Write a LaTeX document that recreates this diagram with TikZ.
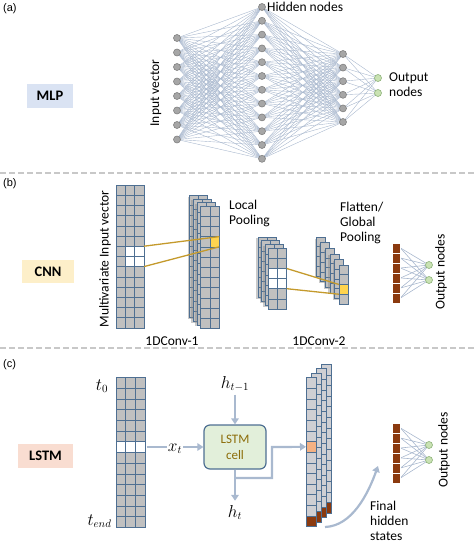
\documentclass[tikz,border=0pt]{standalone}
\usepackage{fontspec}
\setmainfont{Carlito}
\newfontfamily\arialf{Liberation Sans}
\usetikzlibrary{arrows.meta,backgrounds,calc}
\definecolor{edgec}{HTML}{A9B8CE}
\definecolor{nodegray}{HTML}{A6A6A6}
\definecolor{nodeborder}{HTML}{808080}
\definecolor{outgreen}{HTML}{C9E2B3}
\definecolor{outborder}{HTML}{8DB27A}
\definecolor{cellgray}{HTML}{C0C0C0}
\definecolor{cellgrayb}{HTML}{CFCFD3}
\definecolor{cellborder}{HTML}{4E6F92}
\definecolor{mlpbox}{HTML}{DAE3F3}
\definecolor{cnnbox}{HTML}{FDEFC9}
\definecolor{lstmbox}{HTML}{F9DDD1}
\definecolor{yellowc}{HTML}{FFD44F}
\definecolor{goldline}{HTML}{C49A2C}
\definecolor{brownc}{HTML}{8B3A0F}
\definecolor{orangec}{HTML}{F4B183}
\definecolor{arrowc}{HTML}{A9B9CF}
\definecolor{cellgreen}{HTML}{E2EFDA}
\definecolor{celltext}{HTML}{8C6D0A}
\definecolor{dashc}{HTML}{C8C8C8}
\definecolor{shadowc}{HTML}{8A8A8A}
\newcommand{\CellCol}[7]{%
  \foreach \cc in {1,...,#3}{\foreach \rr in {1,...,#4}{%
    \draw[cellst,fill=#7] ({#1+(\cc-1)*(#5)},{#2+(\rr-1)*(#6)}) rectangle ++(#5,#6);}}}
\tikzset{
 nn/.style={circle, draw=nodeborder, fill=nodegray, line width=0.6pt, minimum size=7pt, inner sep=0},
 onode/.style={circle, draw=outborder, fill=outgreen, line width=0.6pt, minimum size=7pt, inner sep=0},
 mlpedge/.style={draw=edgec, line width=0.4pt},
 cellst/.style={draw=cellborder, line width=0.6pt},
 hl/.style={rectangle, draw=cellborder, line width=0.6pt, inner sep=0, outer sep=0, anchor=north west},
 gold/.style={draw=goldline, line width=1.3pt},
 flow/.style={draw=arrowc, line width=2.2pt},
 flowarrow/.style={flow, -{Triangle[length=6pt,width=7.5pt]}},
 labelbox/.style={rectangle, inner sep=0, font=\fontsize{14.5}{16}\selectfont\bfseries},
 sepline/.style={draw=dashc, line width=1.2pt, dash pattern=on 6pt off 3pt},
 txt/.style={inner sep=0, font=\fontsize{13.5}{15}\selectfont},
 mathtxt/.style={inner sep=1pt, font=\fontsize{16}{18}\selectfont},
 panel/.style={inner sep=0, font=\arialf\fontsize{11}{13}\selectfont, anchor=west},
 browncell/.style={rectangle, draw=white, fill=brownc, line width=0.5pt, inner sep=0, outer sep=0, minimum width=8.5pt, minimum height=10pt, anchor=north west},
 backshadow/.style={fill=shadowc, opacity=0.45},
}
\begin{document}
\begin{tikzpicture}[x=1pt,y=-1pt]
\useasboundingbox (0,0) rectangle (474,543);
% separators
\coordinate (s1l) at (0,173); \coordinate (s1r) at (474,173);
\coordinate (s2l) at (0,348); \coordinate (s2r) at (474,348);
\draw[sepline] (s1l) -- (s1r);
\draw[sepline] (s2l) -- (s2r);
% panel labels
\node[panel] (pa) at (3,9) {(a)};
\node[panel] (pb) at (3,184) {(b)};
\node[panel] (pc) at (3,365) {(c)};
% label boxes
\node[labelbox, fill=mlpbox, minimum width=46pt, minimum height=24pt] (mlp) at (50,96) {MLP};
\node[labelbox, fill=cnnbox, minimum width=52pt, minimum height=23pt] (cnn) at (48,271.5) {CNN};
\node[labelbox, fill=lstmbox, minimum width=55pt, minimum height=24pt] (lstm) at (45.5,456) {LSTM};

% ================= MLP =================
\foreach \i in {0,...,7} \node[nn] (a1-\i) at (177,{38+14.5*\i}) {};
\foreach \i in {0,...,11} \node[nn] (a2-\i) at (262,{7+13.8*\i}) {};
\foreach \i in {0,...,5} \node[nn] (a3-\i) at (343,{54+13.6*\i}) {};
\node[onode] (a4-0) at (378,78) {};
\node[onode] (a4-1) at (378,93) {};
\begin{scope}[on background layer]
\foreach \i in {0,...,7}{\foreach \j in {0,...,11}{\draw[mlpedge] (a1-\i.center) -- (a2-\j.center);}}
\foreach \i in {0,...,11}{\foreach \j in {0,...,5}{\draw[mlpedge] (a2-\i.center) -- (a3-\j.center);}}
\foreach \i in {0,...,5}{\foreach \j in {0,1}{\draw[mlpedge] (a3-\i.center) -- (a4-\j.center);}}
\end{scope}
\node[txt, anchor=west] (hid) at (267,6.5) {Hidden nodes};
\node[txt, anchor=west, align=left] (outa) at (389,85) {Output\\nodes};
\node[txt, rotate=90] (inv) at (156,93) {Input vector};

% ================= CNN =================
\node[txt, rotate=90] (miv) at (105,259) {Multivariate Input vector};
\CellCol{116}{185}{3}{14}{9.33}{10.2}{cellgray}
\node[hl,fill=white,minimum width=9.33pt,minimum height=10.2pt] (wa) at (125.33,246.2) {};
\node[hl,fill=white,minimum width=9.33pt,minimum height=10.2pt] (wb) at (134.66,246.2) {};
\node[hl,fill=white,minimum width=9.33pt,minimum height=10.2pt] (wc) at (125.33,256.4) {};
\node[hl,fill=white,minimum width=9.33pt,minimum height=10.2pt] (wd) at (134.66,256.4) {};
% conv-1 stack
\foreach \k in {3,2,1}{%
  \fill[backshadow] ({200.7-3.9*\k-1.5},{206-3.6*\k+1.5}) rectangle ++(18.6,122.4);
  \CellCol{200.7-3.9*\k}{206-3.6*\k}{2}{12}{9.3}{10.2}{cellgray}}
\CellCol{200.7}{206}{2}{12}{9.3}{10.2}{cellgray}
\node[hl,fill=yellowc,minimum width=9.3pt,minimum height=10.2pt] (ya) at (210,236.6) {};
\draw[gold] (wb.north east) -- (ya.north east);
\draw[gold] (wd.south east) -- (ya.south east);
\node[txt, anchor=west, align=left] (lp) at (229,213.5) {Local\\Pooling};
\node[txt] (c1) at (172,341) {1DConv-1};
% conv-2 stack 1
\foreach \k in {3,2,1}{%
  \fill[backshadow] ({268.3-3.5*\k-1.5},{248.3-3.8*\k+1.5}) rectangle ++(18.4,60.6);
  \CellCol{268.3-3.5*\k}{248.3-3.8*\k}{2}{6}{9.2}{10.1}{cellgray}}
\CellCol{268.3}{248.3}{2}{6}{9.2}{10.1}{cellgray}
\node[hl,fill=white,minimum width=9.2pt,minimum height=10.1pt] (wa2) at (268.3,268.5) {};
\node[hl,fill=white,minimum width=9.2pt,minimum height=10.1pt] (wb2) at (277.5,268.5) {};
\node[hl,fill=white,minimum width=9.2pt,minimum height=10.1pt] (wc2) at (268.3,278.6) {};
\node[hl,fill=white,minimum width=9.2pt,minimum height=10.1pt] (wd2) at (277.5,278.6) {};
% conv-2 stack 2
\foreach \k in {5,4,3,2,1}{%
  \fill[backshadow] ({339-4.6*\k-1.5},{265-5.6*\k+1.5}) rectangle ++(9,39);
  \CellCol{339-4.6*\k}{265-5.6*\k}{1}{4}{9}{9.75}{cellgray}}
\CellCol{339}{265}{1}{4}{9}{9.75}{cellgray}
\node[hl,fill=yellowc,minimum width=9pt,minimum height=9.75pt] (yb) at (339,284.5) {};
\draw[gold] (wb2.north east) -- (yb.north west);
\draw[gold] (wd2.south east) -- (yb.south west);
\node[txt, anchor=west, align=left, font=\fontsize{13.5}{15}\selectfont] (fg) at (340,223) {Flatten/\\Global\\Pooling};
\node[txt] (c2) at (319,341) {1DConv-2};
% dense output
\foreach \i in {0,...,5} \node[browncell] (cb-\i) at (392,{243+10*\i}) {};
\node[onode] (co-0) at (429,265) {};
\node[onode] (co-1) at (429,280) {};
\begin{scope}[on background layer]
\foreach \i in {0,...,5}{\foreach \j in {0,1}{\draw[mlpedge, line width=0.6pt] (cb-\i.east) -- (co-\j.center);}}
\end{scope}
\node[txt, rotate=90] (cout) at (441,272) {Output nodes};

% ================= LSTM =================
\CellCol{116}{377.5}{3}{14}{9.67}{10.7}{cellgray}
\node[hl,fill=white,minimum width=9.67pt,minimum height=10.7pt] (lw0) at (116,441.7) {};
\node[hl,fill=white,minimum width=9.67pt,minimum height=10.7pt] (lw1) at (125.67,441.7) {};
\node[hl,fill=white,minimum width=9.67pt,minimum height=10.7pt] (lw2) at (135.33,441.7) {};
\coordinate (lrowE) at ($(lw2.east)+(1.5,0)$);
\node[mathtxt, anchor=base] (t0) at (102,390) {$t_0$};
\node[mathtxt, anchor=base] (tend) at (99.5,525) {$t_{end}$};
\node[rectangle, rounded corners=6pt, draw=cellborder, line width=1.2pt, fill=cellgreen, minimum width=62pt, minimum height=44pt, align=center, text=celltext, font=\fontsize{13}{16}\selectfont] (cell) at (235,447) {LSTM\\cell};
\node[mathtxt, anchor=base] (xt) at (175,451) {$x_t$};
\node[mathtxt, anchor=base] (hprev) at (235,388) {$h_{t-1}$};
\node[mathtxt, anchor=base] (ht) at (235,517) {$h_t$};
\draw[flow] (lrowE) -- (xt.west|-lrowE);
\draw[flowarrow] (xt.east|-cell.west) -- (cell.west);
\draw[flowarrow, shorten <=2pt] (hprev.south) -- (cell.north);
\draw[flowarrow, shorten >=3pt] (cell.south) -- (ht.north);
% final hidden stack
\foreach \k in {3,2,1}{%
  \CellCol{306+5*\k}{377.7-4.5*\k}{1}{14}{10}{10.64}{cellgrayb}
  \draw[cellst, fill=brownc] ({306+5*\k},{377.7-4.5*\k+138.3}) rectangle ++(10,10.64);}
\CellCol{306}{377.7}{1}{14}{10}{10.64}{cellgrayb}
\node[hl,fill=orangec,minimum width=10pt,minimum height=10.64pt] (orc) at (306,441.5) {};
\node[hl,fill=brownc,minimum width=10pt,minimum height=10.64pt] (lastc) at (306,516.0) {};
\coordinate (br) at (235,478);
\coordinate (turn) at (272,447);
\draw[flowarrow] (br) -| (turn) -- (orc.west);
% curved arrow
\coordinate (cs) at (325,527);
\coordinate (ce) at (378,466);
\draw[flowarrow] (cs) .. controls (352,526) and (368,494) .. (ce);
\node[txt, anchor=north west, align=left, font=\fontsize{13.5}{15}\selectfont] (fhs) at (370,501) {Final\\hidden\\states};
% dense output
\foreach \i in {0,...,5} \node[browncell] (lb-\i) at (392,{423+10*\i}) {};
\node[onode] (lo-0) at (429,445) {};
\node[onode] (lo-1) at (429,460) {};
\begin{scope}[on background layer]
\foreach \i in {0,...,5}{\foreach \j in {0,1}{\draw[mlpedge, line width=0.6pt] (lb-\i.east) -- (lo-\j.center);}}
\end{scope}
\node[txt, rotate=90] (lout) at (444,450) {Output nodes};
\end{tikzpicture}
\end{document}
